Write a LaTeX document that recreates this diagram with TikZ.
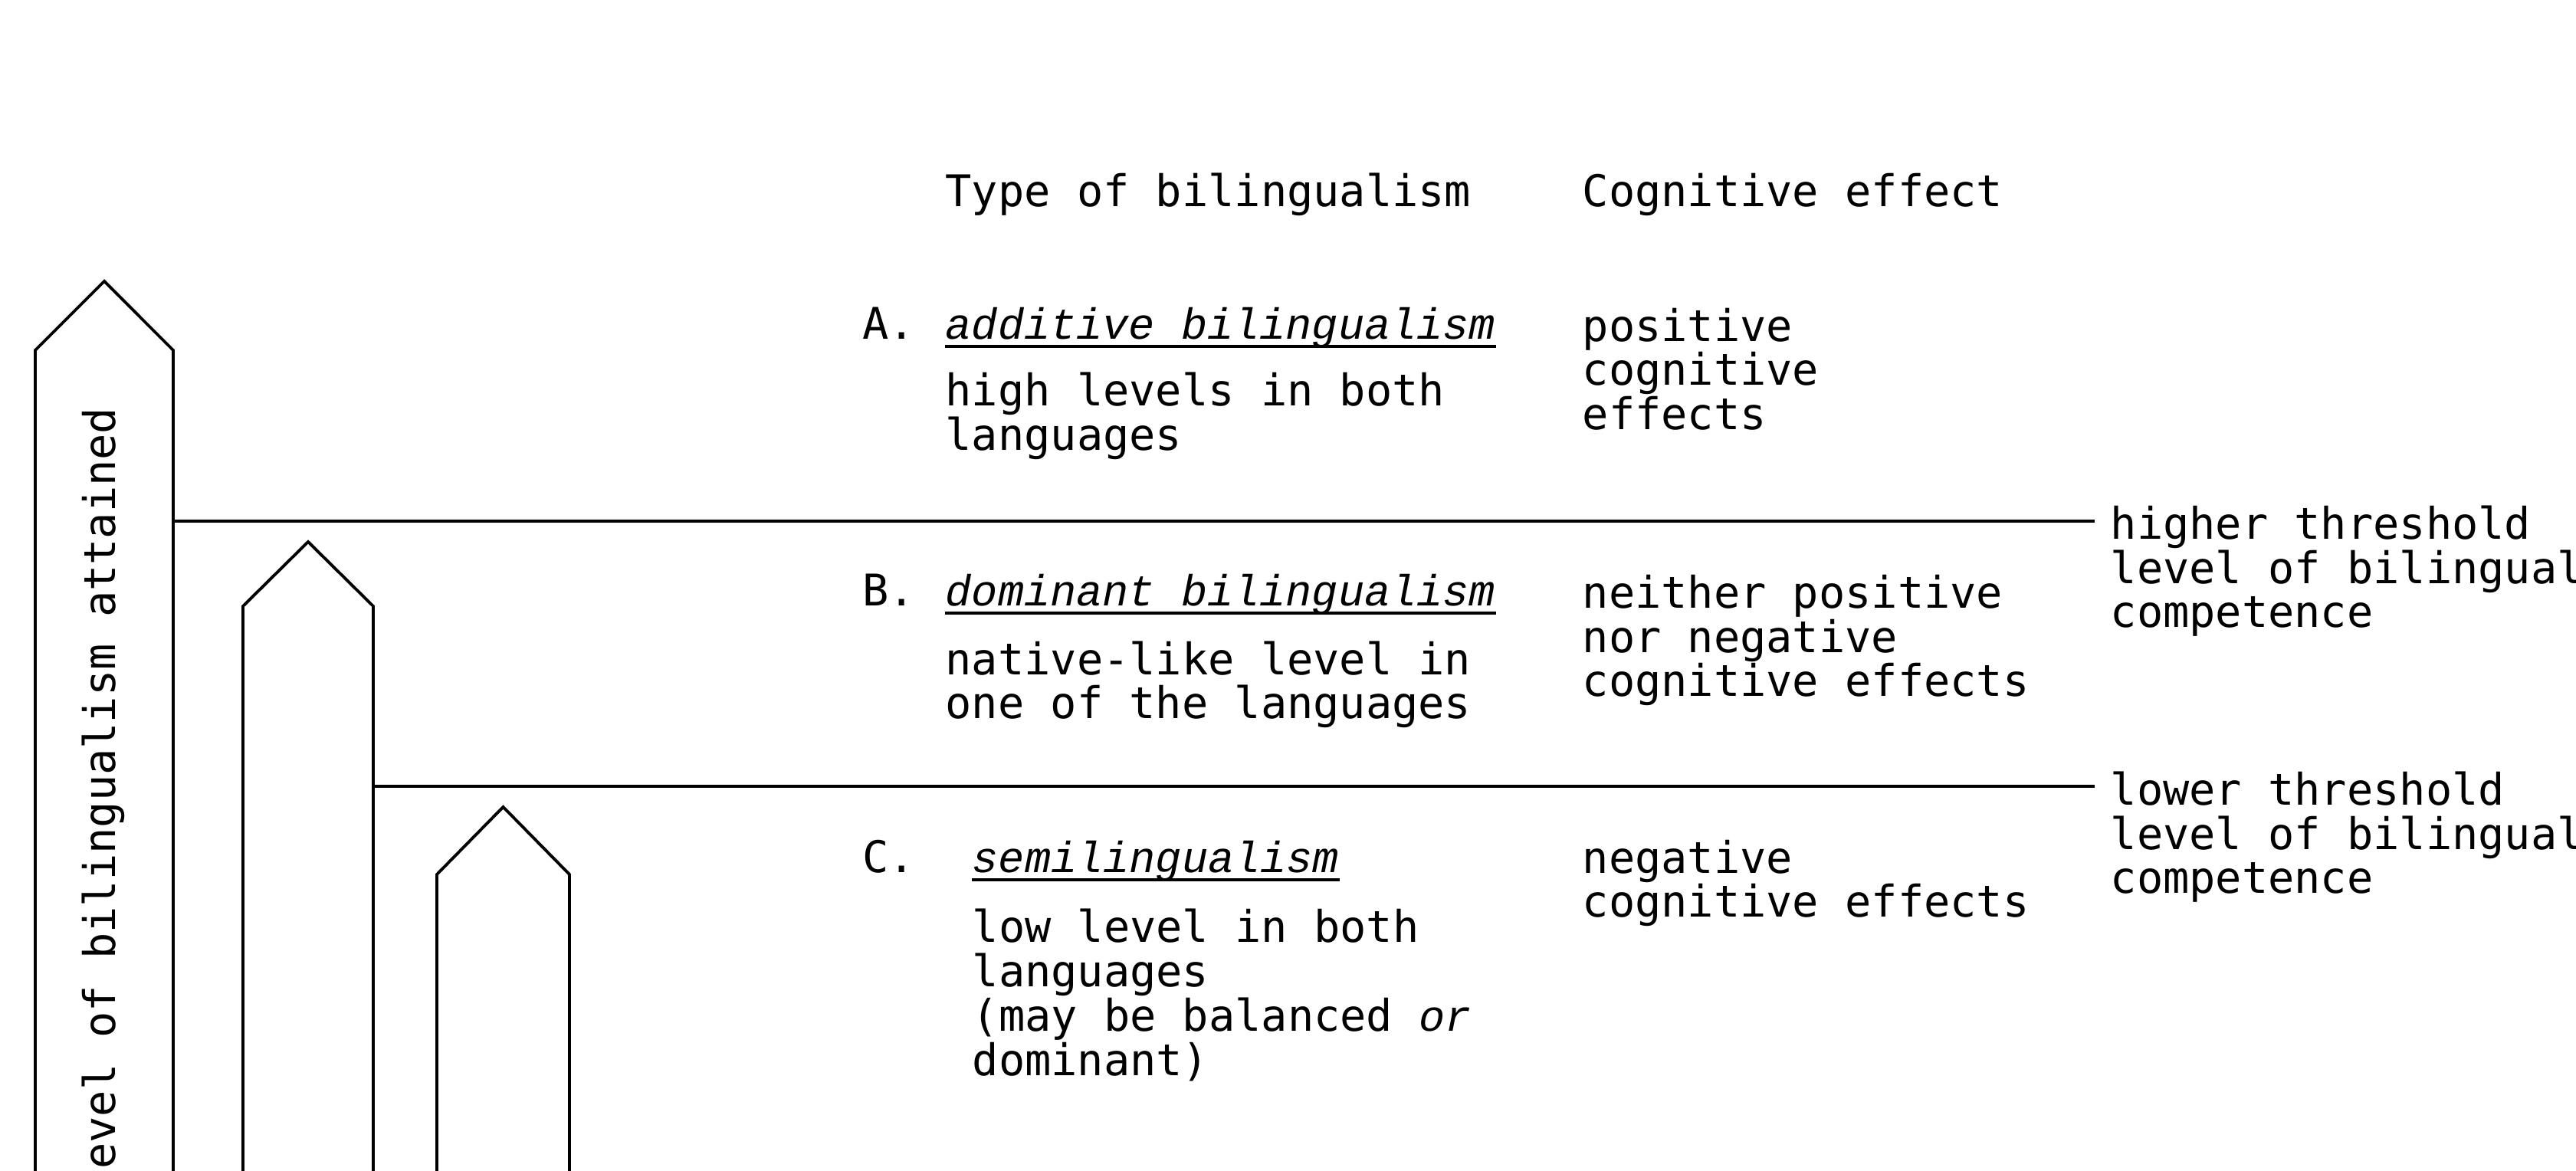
\documentclass[tikz,border=0pt]{standalone}
\usepackage{fontspec}
\newfontfamily\typefont{DejaVu Sans Mono}
\newfontfamily\titlefont{Liberation Mono}
\usetikzlibrary{calc}
\usetikzlibrary{positioning}
\tikzset{
    level column/.style={
        line width=1.1pt,
        line join=miter,
    },
    threshold line/.style={
        line width=0.9pt,
    },
    plain text/.style={
        font=\typefont\fontsize{16.2pt}{16.5pt}\selectfont,
        inner sep=0,
        anchor=base west,
        align=left,
    },
    type title/.style={
        font=\titlefont\itshape\fontsize{16.2pt}{16.5pt}\selectfont,
        inner sep=0,
        anchor=base west,
    },
    title rule/.style={
        line width=1.2pt,
    },
}

\begin{document}
\begin{tikzpicture}

    \useasboundingbox (0, 0) rectangle (33.61, 15.27);

    \foreach \i/\l/\r/\s/\a in {1/0.46/2.26/10.70/11.60, 2/3.17/4.87/7.36/8.20, 3/5.70/7.43/3.86/4.74}
    {
        \coordinate (col\i l) at (\l, \s);
        \coordinate (col\i r) at (\r, \s);
        \coordinate (col\i top) at ($(\l, \a)!0.5!(\r, \a)$);
        \draw[level column] (\l, -0.5) -- (col\i l) -- (col\i top) -- (col\i r) -- (\r, -0.5);
    }

    \coordinate (higher) at (2.26, 8.47);
    \coordinate (lower) at (4.87, 5.01);

    \node[plain text, rotate=90, anchor=base east] (axis) at (1.50, 9.96) {Level of bilingualism attained};

    \node[plain text] (headtype) at (12.33, 12.57) {Type of bilingualism};
    \node[plain text] (headeffect) at (20.64, 12.57) {Cognitive effect};

    % multi-line texts sit on the baseline of their last line
    \node[plain text] (markA) at (11.25, 10.84) {A.};
    \node[type title] (titleA) at (12.33, 10.84) {additive bilingualism};
    \node[plain text] (levelA) at (12.33, 9.39) {high levels in both\\languages};
    \node[plain text] (effectA) at (20.64, 9.66) {positive\\cognitive\\effects};

    \node[plain text] (markB) at (11.25, 7.36) {B.};
    \node[type title] (titleB) at (12.33, 7.36) {dominant bilingualism};
    \node[plain text] (levelB) at (12.33, 5.89) {native-like level in\\one of the languages};
    \node[plain text] (effectB) at (20.64, 6.18) {neither positive\\nor negative\\cognitive effects};

    \node[plain text] (markC) at (11.25, 3.88) {C.};
    \node[type title] (titleC) at (12.68, 3.88) {semilingualism};
    \node[plain text] (levelC) at (12.68, 1.24) {low level in both\\languages\\(may be balanced {\titlefont\itshape or}\\dominant)};
    \node[plain text] (effectC) at (20.64, 3.30) {negative\\cognitive effects};

    \node[plain text] (higherlabel) at (27.53, 7.08) {higher threshold\\level of bilingual\\competence};
    \node[plain text] (lowerlabel) at (27.53, 3.61) {lower threshold\\level of bilingual\\competence};

    \foreach \t in {A,B,C}
    {
        \draw[title rule] ([yshift=-0.9mm]title\t.base west) -- ([yshift=-0.9mm]title\t.base east);
    }

    \draw[threshold line] (higher) -- ([xshift=-2mm]higherlabel.west |- higher);
    \draw[threshold line] (lower) -- ([xshift=-2mm]lowerlabel.west |- lower);

\end{tikzpicture}
\end{document}
